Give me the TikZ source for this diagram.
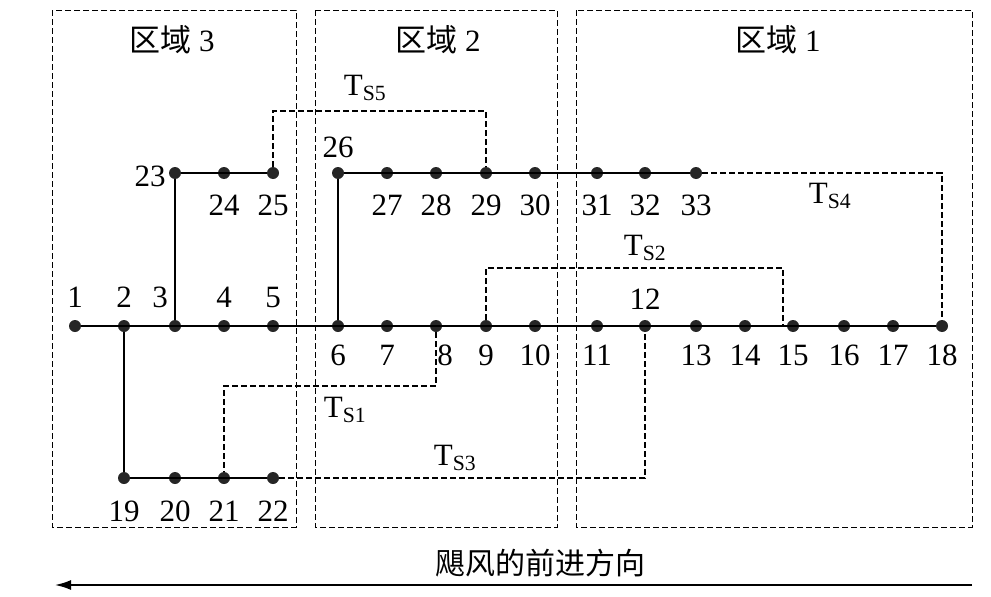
\documentclass[tikz,border=0pt]{standalone}
\usepackage{fontspec}
\setmainfont{Liberation Serif}
\newfontfamily\cjk{Noto Sans CJK SC}
\usetikzlibrary{arrows.meta}
\begin{document}
\begin{tikzpicture}[x=1pt,y=-1pt,
  bus/.style={circle,fill=black!85,inner sep=0pt,minimum size=12pt},
  lbl/.style={font=\fontsize{31}{31}\selectfont,inner sep=0pt},
  tie/.style={dashed,line width=1.1pt,dash pattern=on 6pt off 3pt},
  line/.style={line width=1.8pt},
  region/.style={dashed,line width=1pt,dash pattern=on 6pt off 3pt}]
\useasboundingbox (0,0) rectangle (991,597);
\draw[region] (52,10) rectangle (296,527);
\draw[region] (315,10) rectangle (557,527);
\draw[region] (576,10) rectangle (972,527);
\node[lbl] at (172,40) {{\cjk 区域} 3};
\node[lbl] at (438,40) {{\cjk 区域} 2};
\node[lbl] at (778,40) {{\cjk 区域} 1};
\foreach \n/\x in {1/75,2/124,3/175,4/224,5/273,6/338,7/387,8/436,9/486,10/535,11/597,12/645,13/696,14/745,15/793,16/844,17/893,18/942}
  \node[bus] (n\n) at (\x,326) {};
\foreach \n/\x in {23/175,24/224,25/273,26/338,27/387,28/436,29/486,30/535,31/597,32/645,33/696}
  \node[bus] (n\n) at (\x,173) {};
\foreach \n/\x in {19/124,20/175,21/224,22/273}
  \node[bus] (n\n) at (\x,478) {};
\draw[line] (n1)--(n18);
\draw[line] (n23)--(n25);
\draw[line] (n26)--(n33);
\draw[line] (n19)--(n22);
\draw[line] (n2)--(n19);
\draw[line] (n3)--(n23);
\draw[line] (n6)--(n26);
\foreach \n/\x in {1/75,2/124,3/160,4/224,5/273}
  \node[lbl] at (\x,297) {\n};
\node[lbl] at (645,299) {12};
\foreach \n/\x in {6/338,7/387,8/445,9/486,10/535,11/597,13/696,14/745,15/793,16/844,17/893,18/942}
  \node[lbl] at (\x,355) {\n};
\node[lbl] at (150,176) {23};
\node[lbl] at (338,147) {26};
\foreach \n/\x in {24/224,25/273,27/387,28/436,29/486,30/535,31/597,32/645,33/696}
  \node[lbl] at (\x,205) {\n};
\foreach \n/\x in {19/124,20/175,21/224,22/273}
  \node[lbl] at (\x,511) {\n};
\coordinate (a5) at (273,111); \coordinate (b5) at (486,111);
\draw[tie] (n25)--(a5)--(b5)--(n29);
\coordinate (a4) at (942,173);
\draw[tie] (n33)--(a4)--(n18);
\coordinate (a2) at (486,268); \coordinate (b2) at (783,268); \coordinate (c2) at (783,326);
\draw[tie] (n9)--(a2)--(b2)--(c2);
\coordinate (a1) at (436,386); \coordinate (b1) at (224,386);
\draw[tie] (n8)--(a1)--(b1)--(n21);
\coordinate (a3) at (645,478);
\draw[tie] (n22)--(a3)--(n12);
\node[lbl] at (365,88) {T\textsubscript{S5}};
\node[lbl] at (830,196) {T\textsubscript{S4}};
\node[lbl] at (645,248) {T\textsubscript{S2}};
\node[lbl] at (345,410) {T\textsubscript{S1}};
\node[lbl] at (455,458) {T\textsubscript{S3}};
\coordinate (ar1) at (972,585); \coordinate (ar2) at (55,585);
\draw[line width=1.8pt,-{Latex[length=16pt,width=10pt]}] (ar1)--(ar2);
\node[lbl,font=\cjk\fontsize{30}{30}\selectfont] at (540,563) {飓风的前进方向};
\end{tikzpicture}
\end{document}
